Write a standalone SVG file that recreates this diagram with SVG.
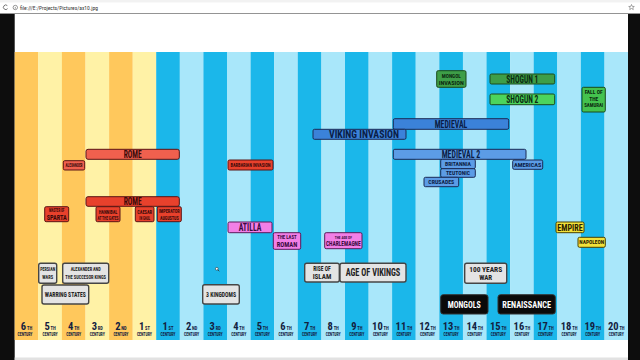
<svg xmlns="http://www.w3.org/2000/svg" width="640" height="360" viewBox="0 0 640 360">
<style>
text{font-family:"Roboto Condensed","Liberation Sans Narrow","DejaVu Sans Condensed",Roboto,"Liberation Sans",sans-serif;font-weight:700;text-anchor:middle}
.so{fill:#FFC85C}.sy{fill:#FFF2A6}.sd{fill:#1BB7EA}.sl{fill:#A9E7FA}
.n rect{stroke-width:1}
.r1 rect{fill:#F0604E;stroke:#5a1414}.r1 text{fill:#3a0a0a}
.r2 rect{fill:#E8412C;stroke:#5a1414}.r2 text{fill:#3a0a0a}
.gy rect{fill:#E4E4E4;stroke:#454545;stroke-width:1.4}.gy text{fill:#222}
.pk rect{fill:#F27FE6;stroke:#5a1a5a}.pk text{fill:#3a0a40}
.b1 rect{fill:#3B82D9;stroke:#1a2a55}.b1 text{fill:#0b1d45}
.b2 rect{fill:#5C9CE6;stroke:#1a2a55}.b2 text{fill:#0b1d45}
.g1 rect{fill:#3E9E48;stroke:#1a4a1a}.g1 text{fill:#0b2a10}
.g2 rect{fill:#4CD45C;stroke:#1a4a1a}.g2 text{fill:#0b2a10}
.g3 rect{fill:#44C24E;stroke:#1a4a1a}.g3 text{fill:#0b2a10}
.yl rect{fill:#F2E23A;stroke:#4a4000}.yl text{fill:#2a2000}
.bk rect{fill:#0a0a0a;stroke:#333}.bk text{fill:#fff}
.cn{fill:#13213f}
</style>
<!-- browser chrome -->
<rect x="0" y="0" width="640" height="14" fill="#f2f2f2"/>
<rect x="0" y="2.5" width="640" height="10.5" fill="#fff"/>
<line x1="0" y1="13.6" x2="640" y2="13.6" stroke="#8a8a8a" stroke-width="1"/>
<path d="M7.3,5.6 A2.3,2.3 0 1 0 7.6,8.6" fill="none" stroke="#555" stroke-width="0.8"/>
<circle cx="15.3" cy="7.5" r="2.2" fill="none" stroke="#555" stroke-width="0.6"/>
<line x1="15.3" y1="6.9" x2="15.3" y2="8.7" stroke="#555" stroke-width="0.6"/>
<text x="20" y="9.6" font-size="5.5" textLength="78" lengthAdjust="spacingAndGlyphs" style="text-anchor:start;font-weight:400;fill:#333">file:///E:/Projects/Pictures/ax10.jpg</text>
<polygon points="631.5,4.5 632.3,6.4 634.3,6.5 632.8,7.7 633.3,9.6 631.5,8.5 629.7,9.6 630.2,7.7 628.7,6.5 630.7,6.4" fill="none" stroke="#555" stroke-width="0.5"/>
<!-- page -->
<rect x="0" y="14" width="640" height="346" fill="#fff"/>
<rect x="0" y="14" width="14.7" height="346" fill="#0d0d0d"/>
<rect x="628" y="14" width="12" height="346" fill="#0d0d0d"/>
<rect x="14.7" y="357.5" width="613.3" height="2.5" fill="#e2e2e2"/>
<g id="stripes">
<rect class="so" x="14.7" y="52" width="23.7" height="288"/>
<rect class="sy" x="38.3" y="52" width="23.7" height="288"/>
<rect class="so" x="61.9" y="52" width="23.7" height="288"/>
<rect class="sy" x="85.5" y="52" width="23.7" height="288"/>
<rect class="so" x="109.1" y="52" width="23.7" height="288"/>
<rect class="sy" x="132.7" y="52" width="23.6" height="288"/>
<rect class="sd" x="156.2" y="52" width="23.7" height="288"/>
<rect class="sl" x="179.8" y="52" width="23.7" height="288"/>
<rect class="sd" x="203.4" y="52" width="23.7" height="288"/>
<rect class="sl" x="227.0" y="52" width="23.7" height="288"/>
<rect class="sd" x="250.6" y="52" width="23.7" height="288"/>
<rect class="sl" x="274.2" y="52" width="23.7" height="288"/>
<rect class="sd" x="297.8" y="52" width="23.7" height="288"/>
<rect class="sl" x="321.4" y="52" width="23.7" height="288"/>
<rect class="sd" x="345.0" y="52" width="23.7" height="288"/>
<rect class="sl" x="368.6" y="52" width="23.6" height="288"/>
<rect class="sd" x="392.1" y="52" width="23.7" height="288"/>
<rect class="sl" x="415.7" y="52" width="23.7" height="288"/>
<rect class="sd" x="439.3" y="52" width="23.7" height="288"/>
<rect class="sl" x="462.9" y="52" width="23.7" height="288"/>
<rect class="sd" x="486.5" y="52" width="23.7" height="288"/>
<rect class="sl" x="510.1" y="52" width="23.7" height="288"/>
<rect class="sd" x="533.7" y="52" width="23.7" height="288"/>
<rect class="sl" x="557.3" y="52" width="23.7" height="288"/>
<rect class="sd" x="580.9" y="52" width="23.7" height="288"/>
<rect class="sl" x="604.5" y="52" width="23.5" height="288"/>
</g>
<g id="century-labels" class="cn">
<text x="26.5" y="329.5" class="cn"><tspan font-size="10.5">6</tspan><tspan font-size="4.5" dx="0.8">TH</tspan></text>
<text x="50.1" y="329.5" class="cn"><tspan font-size="10.5">5</tspan><tspan font-size="4.5" dx="0.8">TH</tspan></text>
<text x="73.7" y="329.5" class="cn"><tspan font-size="10.5">4</tspan><tspan font-size="4.5" dx="0.8">TH</tspan></text>
<text x="97.3" y="329.5" class="cn"><tspan font-size="10.5">3</tspan><tspan font-size="4.5" dx="0.8">RD</tspan></text>
<text x="120.9" y="329.5" class="cn"><tspan font-size="10.5">2</tspan><tspan font-size="4.5" dx="0.8">ND</tspan></text>
<text x="144.4" y="329.5" class="cn"><tspan font-size="10.5">1</tspan><tspan font-size="4.5" dx="0.8">ST</tspan></text>
<text x="168.0" y="329.5" class="cn"><tspan font-size="10.5">1</tspan><tspan font-size="4.5" dx="0.8">ST</tspan></text>
<text x="191.6" y="329.5" class="cn"><tspan font-size="10.5">2</tspan><tspan font-size="4.5" dx="0.8">ND</tspan></text>
<text x="215.2" y="329.5" class="cn"><tspan font-size="10.5">3</tspan><tspan font-size="4.5" dx="0.8">RD</tspan></text>
<text x="238.8" y="329.5" class="cn"><tspan font-size="10.5">4</tspan><tspan font-size="4.5" dx="0.8">TH</tspan></text>
<text x="262.4" y="329.5" class="cn"><tspan font-size="10.5">5</tspan><tspan font-size="4.5" dx="0.8">TH</tspan></text>
<text x="286.0" y="329.5" class="cn"><tspan font-size="10.5">6</tspan><tspan font-size="4.5" dx="0.8">TH</tspan></text>
<text x="309.6" y="329.5" class="cn"><tspan font-size="10.5">7</tspan><tspan font-size="4.5" dx="0.8">TH</tspan></text>
<text x="333.2" y="329.5" class="cn"><tspan font-size="10.5">8</tspan><tspan font-size="4.5" dx="0.8">TH</tspan></text>
<text x="356.8" y="329.5" class="cn"><tspan font-size="10.5">9</tspan><tspan font-size="4.5" dx="0.8">TH</tspan></text>
<text x="380.4" y="329.5" class="cn"><tspan font-size="10.5">10</tspan><tspan font-size="4.5" dx="0.8">TH</tspan></text>
<text x="403.9" y="329.5" class="cn"><tspan font-size="10.5">11</tspan><tspan font-size="4.5" dx="0.8">TH</tspan></text>
<text x="427.5" y="329.5" class="cn"><tspan font-size="10.5">12</tspan><tspan font-size="4.5" dx="0.8">TH</tspan></text>
<text x="451.1" y="329.5" class="cn"><tspan font-size="10.5">13</tspan><tspan font-size="4.5" dx="0.8">TH</tspan></text>
<text x="474.7" y="329.5" class="cn"><tspan font-size="10.5">14</tspan><tspan font-size="4.5" dx="0.8">TH</tspan></text>
<text x="498.3" y="329.5" class="cn"><tspan font-size="10.5">15</tspan><tspan font-size="4.5" dx="0.8">TH</tspan></text>
<text x="521.9" y="329.5" class="cn"><tspan font-size="10.5">16</tspan><tspan font-size="4.5" dx="0.8">TH</tspan></text>
<text x="545.5" y="329.5" class="cn"><tspan font-size="10.5">17</tspan><tspan font-size="4.5" dx="0.8">TH</tspan></text>
<text x="569.1" y="329.5" class="cn"><tspan font-size="10.5">18</tspan><tspan font-size="4.5" dx="0.8">TH</tspan></text>
<text x="592.7" y="329.5" class="cn"><tspan font-size="10.5">19</tspan><tspan font-size="4.5" dx="0.8">TH</tspan></text>
<text x="616.3" y="329.5" class="cn"><tspan font-size="10.5">20</tspan><tspan font-size="4.5" dx="0.8">TH</tspan></text>
<g font-size="4.6">
<text x="25" y="336.3" textLength="15" lengthAdjust="spacingAndGlyphs">CENTURY</text>
<text x="50.1" y="336.3" textLength="15" lengthAdjust="spacingAndGlyphs">CENTURY</text>
<text x="73.7" y="336.3" textLength="15" lengthAdjust="spacingAndGlyphs">CENTURY</text>
<text x="97.3" y="336.3" textLength="15" lengthAdjust="spacingAndGlyphs">CENTURY</text>
<text x="120.9" y="336.3" textLength="15" lengthAdjust="spacingAndGlyphs">CENTURY</text>
<text x="144.4" y="336.3" textLength="15" lengthAdjust="spacingAndGlyphs">CENTURY</text>
<text x="168.0" y="336.3" textLength="15" lengthAdjust="spacingAndGlyphs">CENTURY</text>
<text x="191.6" y="336.3" textLength="15" lengthAdjust="spacingAndGlyphs">CENTURY</text>
<text x="215.2" y="336.3" textLength="15" lengthAdjust="spacingAndGlyphs">CENTURY</text>
<text x="238.8" y="336.3" textLength="15" lengthAdjust="spacingAndGlyphs">CENTURY</text>
<text x="262.4" y="336.3" textLength="15" lengthAdjust="spacingAndGlyphs">CENTURY</text>
<text x="286.0" y="336.3" textLength="15" lengthAdjust="spacingAndGlyphs">CENTURY</text>
<text x="309.6" y="336.3" textLength="15" lengthAdjust="spacingAndGlyphs">CENTURY</text>
<text x="333.2" y="336.3" textLength="15" lengthAdjust="spacingAndGlyphs">CENTURY</text>
<text x="356.8" y="336.3" textLength="15" lengthAdjust="spacingAndGlyphs">CENTURY</text>
<text x="380.4" y="336.3" textLength="15" lengthAdjust="spacingAndGlyphs">CENTURY</text>
<text x="403.9" y="336.3" textLength="15" lengthAdjust="spacingAndGlyphs">CENTURY</text>
<text x="427.5" y="336.3" textLength="15" lengthAdjust="spacingAndGlyphs">CENTURY</text>
<text x="451.1" y="336.3" textLength="15" lengthAdjust="spacingAndGlyphs">CENTURY</text>
<text x="474.7" y="336.3" textLength="15" lengthAdjust="spacingAndGlyphs">CENTURY</text>
<text x="498.3" y="336.3" textLength="15" lengthAdjust="spacingAndGlyphs">CENTURY</text>
<text x="521.9" y="336.3" textLength="15" lengthAdjust="spacingAndGlyphs">CENTURY</text>
<text x="545.5" y="336.3" textLength="15" lengthAdjust="spacingAndGlyphs">CENTURY</text>
<text x="569.1" y="336.3" textLength="15" lengthAdjust="spacingAndGlyphs">CENTURY</text>
<text x="592.7" y="336.3" textLength="15" lengthAdjust="spacingAndGlyphs">CENTURY</text>
<text x="616.3" y="336.3" textLength="15" lengthAdjust="spacingAndGlyphs">CENTURY</text>
</g>
</g>
<g id="connectors"></g>
<!-- Red / Rome -->
<g id="rome-1" class="n r1"><rect x="86" y="149.3" width="93.3" height="10" rx="2"/><text x="132.7" y="157.8" font-size="10" textLength="18" lengthAdjust="spacingAndGlyphs">ROME</text></g>
<g id="alexander" class="n r1"><rect x="63.3" y="160.7" width="21.4" height="9.3" rx="1.5"/><text x="74" y="167" font-size="4.5" textLength="17" lengthAdjust="spacingAndGlyphs">ALEXANDER</text></g>
<g id="rome-2" class="n r2"><rect x="86" y="196.7" width="93.3" height="9.6" rx="2"/><text x="132.7" y="205" font-size="10" textLength="18" lengthAdjust="spacingAndGlyphs">ROME</text></g>
<g id="master-of-sparta" class="n r2"><rect x="44.7" y="206.7" width="24" height="15" rx="1.5"/><text x="56.7" y="212.2" font-size="4.5" textLength="15.3" lengthAdjust="spacingAndGlyphs">MASTER OF</text><text x="56.7" y="219.6" font-size="7" textLength="20" lengthAdjust="spacingAndGlyphs">SPARTA</text></g>
<g id="hannibal" class="n r2"><rect x="96" y="206.7" width="24" height="15" rx="1.5"/><text x="108" y="213.5" font-size="6" textLength="18.7" lengthAdjust="spacingAndGlyphs">HANNIBAL</text><text x="108" y="219.5" font-size="4.5" textLength="21" lengthAdjust="spacingAndGlyphs">AT THE GATES</text></g>
<g id="caesar" class="n r2"><rect x="135.3" y="206.7" width="18.7" height="15" rx="1.5"/><text x="144.7" y="213.5" font-size="6" textLength="14.7" lengthAdjust="spacingAndGlyphs">CAESAR</text><text x="144.7" y="219.5" font-size="4.5" textLength="10.7" lengthAdjust="spacingAndGlyphs">IN GAUL</text></g>
<g id="imperator-augustus" class="n r2"><rect x="157.3" y="206.7" width="24" height="15" rx="1.5"/><text x="169.3" y="213.2" font-size="5.5" textLength="20.7" lengthAdjust="spacingAndGlyphs">IMPERATOR</text><text x="169.3" y="219.6" font-size="6" textLength="18.7" lengthAdjust="spacingAndGlyphs">AUGUSTUS</text></g>
<g id="barbarian-invasion" class="n r2"><rect x="228" y="160" width="45" height="10" rx="1.5"/><text x="250.5" y="166.8" font-size="5" textLength="40" lengthAdjust="spacingAndGlyphs">BARBARIAN INVASION</text></g>
<!-- Gray -->
<g id="persian-wars" class="n gy"><rect x="38.7" y="263.3" width="18" height="20" rx="2"/><text x="47.7" y="271" font-size="5" textLength="15" lengthAdjust="spacingAndGlyphs">PERSIAN</text><text x="47.7" y="278.5" font-size="5" textLength="10.7" lengthAdjust="spacingAndGlyphs">WARS</text></g>
<g id="alexander-successor" class="n gy"><rect x="62.7" y="263.3" width="46" height="20" rx="2"/><text x="85.7" y="271.2" font-size="5.5" textLength="30" lengthAdjust="spacingAndGlyphs">ALEXANDER AND</text><text x="85.7" y="278.6" font-size="5.5" textLength="40.7" lengthAdjust="spacingAndGlyphs">THE SUCCESOR KINGS</text></g>
<g id="warring-states" class="n gy"><rect x="42" y="285" width="46.7" height="19" rx="2"/><text x="65.3" y="297.4" font-size="8" textLength="41" lengthAdjust="spacingAndGlyphs">WARRING STATES</text></g>
<g id="three-kingdoms" class="n gy"><rect x="202.7" y="284.7" width="36.6" height="19.3" rx="2"/><text x="221" y="296.8" font-size="7" textLength="30" lengthAdjust="spacingAndGlyphs">3 KINGDOMS</text></g>
<g id="rise-of-islam" class="n gy"><rect x="304.7" y="263.3" width="34.6" height="18.7" rx="2"/><text x="322" y="271.2" font-size="7" textLength="17.3" lengthAdjust="spacingAndGlyphs">RISE OF</text><text x="322" y="279.2" font-size="7" textLength="18.7" lengthAdjust="spacingAndGlyphs">ISLAM</text></g>
<g id="age-of-vikings" class="n gy"><rect x="340" y="263.3" width="66" height="18.7" rx="2"/><text x="373" y="276.3" font-size="10" textLength="54.7" lengthAdjust="spacingAndGlyphs">AGE OF VIKINGS</text></g>
<g id="hundred-years-war" class="n gy"><rect x="464.7" y="263.3" width="42" height="20" rx="2"/><text x="485.7" y="272" font-size="8" textLength="33" lengthAdjust="spacingAndGlyphs">100 YEARS</text><text x="485.7" y="279.8" font-size="8" textLength="13" lengthAdjust="spacingAndGlyphs">WAR</text></g>
<!-- Pink -->
<g id="atilla" class="n pk"><rect x="228" y="222" width="44" height="10.7" rx="1.5"/><text x="250" y="230.8" font-size="10" textLength="22.7" lengthAdjust="spacingAndGlyphs">ATILLA</text></g>
<g id="last-roman" class="n pk"><rect x="273.3" y="232.7" width="27.4" height="16.6" rx="1.5"/><text x="287" y="239" font-size="5" textLength="19.3" lengthAdjust="spacingAndGlyphs">THE LAST</text><text x="287" y="246.6" font-size="8" textLength="20.7" lengthAdjust="spacingAndGlyphs">ROMAN</text></g>
<g id="charlemagne" class="n pk"><rect x="324.7" y="232.7" width="37.3" height="16" rx="1.5"/><text x="343.3" y="238.6" font-size="4" textLength="17" lengthAdjust="spacingAndGlyphs">THE AGE OF</text><text x="343.3" y="245.6" font-size="6.5" textLength="34.7" lengthAdjust="spacingAndGlyphs">CHARLEMAGNE</text></g>
<!-- Blue -->
<g id="medieval" class="n b1"><rect x="393.3" y="118.7" width="115.4" height="10.6" rx="1.5"/><text x="451" y="127.5" font-size="10" textLength="32.7" lengthAdjust="spacingAndGlyphs">MEDIEVAL</text></g>
<g id="viking-invasion" class="n b1"><rect x="313" y="129.3" width="93" height="10" rx="1.5"/><text x="364" y="137.8" font-size="10" textLength="70" lengthAdjust="spacingAndGlyphs">VIKING INVASION</text></g>
<g id="medieval-2" class="n b2"><rect x="393.3" y="149.3" width="132.7" height="10" rx="1.5"/><text x="461" y="157.8" font-size="10" textLength="38.7" lengthAdjust="spacingAndGlyphs">MEDIEVAL 2</text></g>
<g id="britannia" class="n b2"><rect x="440.7" y="159.3" width="34.6" height="9.4" rx="1.5"/><text x="458" y="166.1" font-size="6" textLength="26" lengthAdjust="spacingAndGlyphs">BRITANNIA</text></g>
<g id="teutonic" class="n b2"><rect x="440.7" y="168.7" width="34.6" height="8.6" rx="1.5"/><text x="458" y="175.1" font-size="6" textLength="24" lengthAdjust="spacingAndGlyphs">TEUTONIC</text></g>
<g id="crusades" class="n b2"><rect x="424" y="177.3" width="34.7" height="9.4" rx="1.5"/><text x="441.3" y="184.1" font-size="6" textLength="26" lengthAdjust="spacingAndGlyphs">CRUSADES</text></g>
<g id="americas" class="n b2"><rect x="512.7" y="160" width="30" height="9.3" rx="1.5"/><text x="527.7" y="166.8" font-size="6" textLength="27.3" lengthAdjust="spacingAndGlyphs">AMERICAS</text></g>
<!-- Green -->
<g id="mongol-invasion" class="n g1"><rect x="436.7" y="70.7" width="29.3" height="16.6" rx="1.5"/><text x="451.3" y="77.6" font-size="5.5" textLength="19" lengthAdjust="spacingAndGlyphs">MONGOL</text><text x="451.3" y="84.5" font-size="5.5" textLength="25" lengthAdjust="spacingAndGlyphs">INVASION</text></g>
<g id="shogun-1" class="n g1"><rect x="490" y="74" width="64.7" height="10" rx="1.5"/><text x="522.3" y="82.5" font-size="10" textLength="32" lengthAdjust="spacingAndGlyphs">SHOGUN 1</text></g>
<g id="shogun-2" class="n g2"><rect x="490" y="94" width="64.7" height="10.7" rx="1.5"/><text x="522.3" y="102.8" font-size="10" textLength="32" lengthAdjust="spacingAndGlyphs">SHOGUN 2</text></g>
<g id="fall-of-the-samurai" class="n g3"><rect x="582" y="87.3" width="23.3" height="24.7" rx="1.5"/><text x="593.7" y="94" font-size="5.5" textLength="18" lengthAdjust="spacingAndGlyphs">FALL OF</text><text x="593.7" y="100.6" font-size="5.5" textLength="9" lengthAdjust="spacingAndGlyphs">THE</text><text x="593.7" y="107.2" font-size="5.5" textLength="19" lengthAdjust="spacingAndGlyphs">SAMURAI</text></g>
<!-- Yellow -->
<g id="empire" class="n yl"><rect x="556" y="222" width="28" height="10.7" rx="1.5"/><text x="570" y="230.6" font-size="9" textLength="25.3" lengthAdjust="spacingAndGlyphs">EMPIRE</text></g>
<g id="napoleon" class="n yl"><rect x="578" y="237.3" width="27.3" height="10" rx="1.5"/><text x="591.7" y="244.3" font-size="5.5" textLength="24.7" lengthAdjust="spacingAndGlyphs">NAPOLEON</text></g>
<!-- Black -->
<g id="mongols" class="n bk"><rect x="440.7" y="294.7" width="47.3" height="19.3" rx="2.5"/><text x="464.3" y="307.7" font-size="9.5" textLength="33" lengthAdjust="spacingAndGlyphs">MONGOLS</text></g>
<g id="renaissance" class="n bk"><rect x="498" y="294.7" width="57.3" height="19.3" rx="2.5"/><text x="526.7" y="307.7" font-size="9.5" textLength="48.7" lengthAdjust="spacingAndGlyphs">RENAISSANCE</text></g>
<!-- cursor -->
<g id="cursor"><circle cx="216.8" cy="268.8" r="1.4" fill="#fff" stroke="#333" stroke-width="0.6"/><line x1="217.8" y1="269.8" x2="219.3" y2="271.3" stroke="#333" stroke-width="0.8"/></g>
</svg>
